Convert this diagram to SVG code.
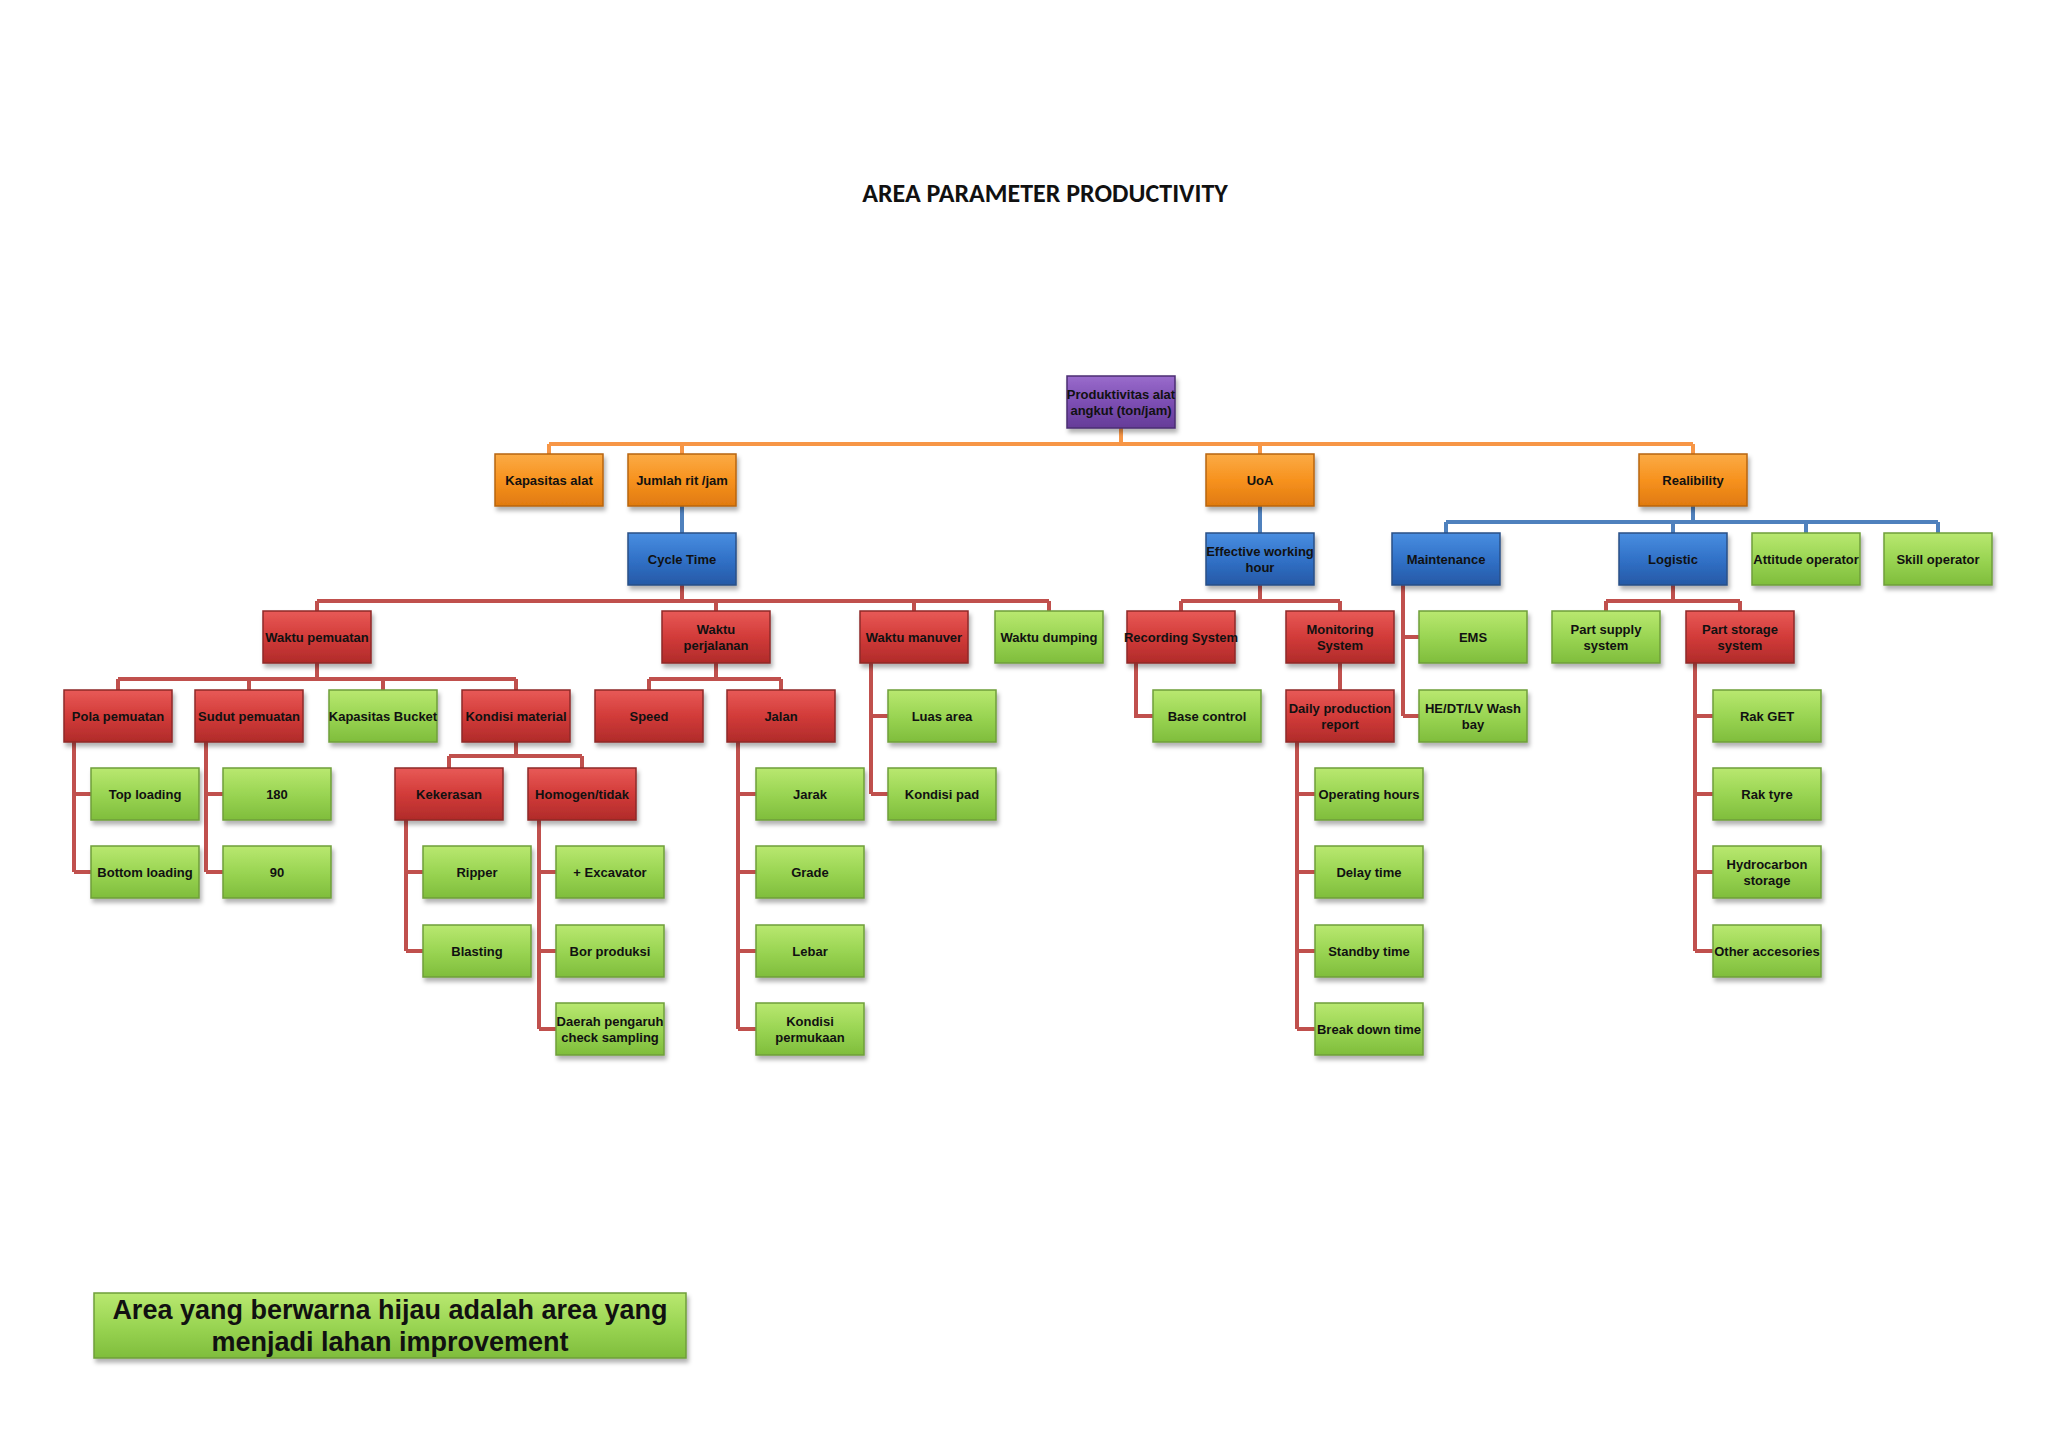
<svg xmlns="http://www.w3.org/2000/svg" width="2048" height="1448" viewBox="0 0 2048 1448">
<style>
.n text{font-family:"Liberation Sans Narrow","Liberation Sans",Arial,sans-serif;font-weight:bold;font-size:13px;fill:#111;text-anchor:middle}
.n rect{stroke-width:1.5;filter:url(#sh)}
.g rect{fill:url(#gG);stroke:#6f9e3a}
.r rect{fill:url(#gR);stroke:#8e2a28}
.o rect{fill:url(#gO);stroke:#b8650f}
.b rect{fill:url(#gB);stroke:#2a4f86}
.p rect{fill:url(#gP);stroke:#4b2c72}
#conn path{fill:none;stroke-width:4}
.co{stroke:#f79646}.cb{stroke:#4f81bd}.cr{stroke:#c0504d}
</style>
<defs>
<filter id="sh" x="-10%" y="-10%" width="125%" height="140%"><feDropShadow dx="2" dy="4" stdDeviation="2" flood-color="#000" flood-opacity="0.3"/></filter>
<linearGradient id="gG" x1="0" y1="0" x2="0" y2="1"><stop offset="0" stop-color="#b9e870"/><stop offset="0.5" stop-color="#9ad553"/><stop offset="1" stop-color="#7fbd3c"/></linearGradient>
<linearGradient id="gR" x1="0" y1="0" x2="0" y2="1"><stop offset="0" stop-color="#e85a57"/><stop offset="0.5" stop-color="#d23b39"/><stop offset="1" stop-color="#b02b2a"/></linearGradient>
<linearGradient id="gO" x1="0" y1="0" x2="0" y2="1"><stop offset="0" stop-color="#fbab45"/><stop offset="0.5" stop-color="#f7921e"/><stop offset="1" stop-color="#e07a10"/></linearGradient>
<linearGradient id="gB" x1="0" y1="0" x2="0" y2="1"><stop offset="0" stop-color="#4a8ee0"/><stop offset="0.5" stop-color="#3172c8"/><stop offset="1" stop-color="#2659a6"/></linearGradient>
<linearGradient id="gP" x1="0" y1="0" x2="0" y2="1"><stop offset="0" stop-color="#9a6ccc"/><stop offset="0.5" stop-color="#7d4fb3"/><stop offset="1" stop-color="#653c98"/></linearGradient>
</defs>
<rect width="2048" height="1448" fill="#fff"/>
<text x="1045" y="202" font-family="Calibri,'Liberation Sans',Arial,sans-serif" font-weight="bold" font-size="26" text-anchor="middle" fill="#111">AREA PARAMETER PRODUCTIVITY</text>

<g id="conn">
<path class="co" d="M1121 428V444M549 444H1693M549 444V454M682 444V454M1260 444V454M1693 444V454"/>
<path class="cb" d="M682 506V533M1260 506V533M1693 506V522M1446 522H1938M1446 522V533M1673 522V533M1806 522V533M1938 522V533"/>
<path class="cr" d="M682 585V601M317 601H1049M317 601V611M716 601V611M914 601V611M1049 601V611"/>
<path class="cr" d="M1260 585V601M1181 601H1340M1181 601V611M1340 601V611"/>
<path class="cr" d="M1673 585V601M1606 601H1740M1606 601V611M1740 601V611"/>
<path class="cr" d="M1403 585V716M1403 637H1419M1403 716H1419"/>
<path class="cr" d="M317 663V679M118 679H516M118 679V690M249 679V690M383 679V690M516 679V690"/>
<path class="cr" d="M716 663V679M649 679H781M649 679V690M781 679V690"/>
<path class="cr" d="M871 663V794M871 716H888M871 794H888"/>
<path class="cr" d="M1136 663V716H1153"/>
<path class="cr" d="M1340 663V690"/>
<path class="cr" d="M1695 663V951M1695 716H1713M1695 794H1713M1695 872H1713M1695 951H1713"/>
<path class="cr" d="M74 742V872M74 794H91M74 872H91"/>
<path class="cr" d="M206 742V872M206 794H223M206 872H223"/>
<path class="cr" d="M516 742V756M449 756H582M449 756V768M582 756V768"/>
<path class="cr" d="M738 742V1029M738 794H756M738 872H756M738 951H756M738 1029H756"/>
<path class="cr" d="M1297 742V1029M1297 794H1315M1297 872H1315M1297 951H1315M1297 1029H1315"/>
<path class="cr" d="M406 820V951M406 872H423M406 951H423"/>
<path class="cr" d="M539 820V1029M539 872H556M539 951H556M539 1029H556"/>
</g>

<g id="n-root" class="n p"><rect x="1067" y="376" width="108" height="52"/><text x="1121" y="398.5">Produktivitas alat</text><text x="1121" y="414.5">angkut (ton/jam)</text></g>

<g id="n-kapasitas-alat" class="n o"><rect x="495" y="454" width="108" height="52"/><text x="549" y="484.5">Kapasitas alat</text></g>
<g id="n-jumlah-rit" class="n o"><rect x="628" y="454" width="108" height="52"/><text x="682" y="484.5">Jumlah rit /jam</text></g>
<g id="n-uoa" class="n o"><rect x="1206" y="454" width="108" height="52"/><text x="1260" y="484.5">UoA</text></g>
<g id="n-realibility" class="n o"><rect x="1639" y="454" width="108" height="52"/><text x="1693" y="484.5">Realibility</text></g>

<g id="n-cycle-time" class="n b"><rect x="628" y="533" width="108" height="52"/><text x="682" y="563.5">Cycle Time</text></g>
<g id="n-ewh" class="n b"><rect x="1206" y="533" width="108" height="52"/><text x="1260" y="555.5">Effective working</text><text x="1260" y="571.5">hour</text></g>
<g id="n-maintenance" class="n b"><rect x="1392" y="533" width="108" height="52"/><text x="1446" y="563.5">Maintenance</text></g>
<g id="n-logistic" class="n b"><rect x="1619" y="533" width="108" height="52"/><text x="1673" y="563.5">Logistic</text></g>
<g id="n-attitude" class="n g"><rect x="1752" y="533" width="108" height="52"/><text x="1806" y="563.5">Attitude operator</text></g>
<g id="n-skill" class="n g"><rect x="1884" y="533" width="108" height="52"/><text x="1938" y="563.5">Skill operator</text></g>

<g id="n-waktu-pemuatan" class="n r"><rect x="263" y="611" width="108" height="52"/><text x="317" y="641.5">Waktu pemuatan</text></g>
<g id="n-waktu-perjalanan" class="n r"><rect x="662" y="611" width="108" height="52"/><text x="716" y="633.5">Waktu</text><text x="716" y="649.5">perjalanan</text></g>
<g id="n-waktu-manuver" class="n r"><rect x="860" y="611" width="108" height="52"/><text x="914" y="641.5">Waktu manuver</text></g>
<g id="n-waktu-dumping" class="n g"><rect x="995" y="611" width="108" height="52"/><text x="1049" y="641.5">Waktu dumping</text></g>
<g id="n-recording" class="n r"><rect x="1127" y="611" width="108" height="52"/><text x="1181" y="641.5">Recording System</text></g>
<g id="n-monitoring" class="n r"><rect x="1286" y="611" width="108" height="52"/><text x="1340" y="633.5">Monitoring</text><text x="1340" y="649.5">System</text></g>
<g id="n-ems" class="n g"><rect x="1419" y="611" width="108" height="52"/><text x="1473" y="641.5">EMS</text></g>
<g id="n-part-supply" class="n g"><rect x="1552" y="611" width="108" height="52"/><text x="1606" y="633.5">Part supply</text><text x="1606" y="649.5">system</text></g>
<g id="n-part-storage" class="n r"><rect x="1686" y="611" width="108" height="52"/><text x="1740" y="633.5">Part storage</text><text x="1740" y="649.5">system</text></g>

<g id="n-pola" class="n r"><rect x="64" y="690" width="108" height="52"/><text x="118" y="720.5">Pola pemuatan</text></g>
<g id="n-sudut" class="n r"><rect x="195" y="690" width="108" height="52"/><text x="249" y="720.5">Sudut pemuatan</text></g>
<g id="n-kap-bucket" class="n g"><rect x="329" y="690" width="108" height="52"/><text x="383" y="720.5">Kapasitas Bucket</text></g>
<g id="n-kondisi-material" class="n r"><rect x="462" y="690" width="108" height="52"/><text x="516" y="720.5">Kondisi material</text></g>
<g id="n-speed" class="n r"><rect x="595" y="690" width="108" height="52"/><text x="649" y="720.5">Speed</text></g>
<g id="n-jalan" class="n r"><rect x="727" y="690" width="108" height="52"/><text x="781" y="720.5">Jalan</text></g>
<g id="n-luas-area" class="n g"><rect x="888" y="690" width="108" height="52"/><text x="942" y="720.5">Luas area</text></g>
<g id="n-base-control" class="n g"><rect x="1153" y="690" width="108" height="52"/><text x="1207" y="720.5">Base control</text></g>
<g id="n-daily" class="n r"><rect x="1286" y="690" width="108" height="52"/><text x="1340" y="712.5">Daily production</text><text x="1340" y="728.5">report</text></g>
<g id="n-wash" class="n g"><rect x="1419" y="690" width="108" height="52"/><text x="1473" y="712.5">HE/DT/LV Wash</text><text x="1473" y="728.5">bay</text></g>
<g id="n-rak-get" class="n g"><rect x="1713" y="690" width="108" height="52"/><text x="1767" y="720.5">Rak GET</text></g>

<g id="n-top-loading" class="n g"><rect x="91" y="768" width="108" height="52"/><text x="145" y="798.5">Top loading</text></g>
<g id="n-180" class="n g"><rect x="223" y="768" width="108" height="52"/><text x="277" y="798.5">180</text></g>
<g id="n-kekerasan" class="n r"><rect x="395" y="768" width="108" height="52"/><text x="449" y="798.5">Kekerasan</text></g>
<g id="n-homogen" class="n r"><rect x="528" y="768" width="108" height="52"/><text x="582" y="798.5">Homogen/tidak</text></g>
<g id="n-jarak" class="n g"><rect x="756" y="768" width="108" height="52"/><text x="810" y="798.5">Jarak</text></g>
<g id="n-kondisi-pad" class="n g"><rect x="888" y="768" width="108" height="52"/><text x="942" y="798.5">Kondisi pad</text></g>
<g id="n-operating" class="n g"><rect x="1315" y="768" width="108" height="52"/><text x="1369" y="798.5">Operating hours</text></g>
<g id="n-rak-tyre" class="n g"><rect x="1713" y="768" width="108" height="52"/><text x="1767" y="798.5">Rak tyre</text></g>

<g id="n-bottom-loading" class="n g"><rect x="91" y="846" width="108" height="52"/><text x="145" y="876.5">Bottom loading</text></g>
<g id="n-90" class="n g"><rect x="223" y="846" width="108" height="52"/><text x="277" y="876.5">90</text></g>
<g id="n-ripper" class="n g"><rect x="423" y="846" width="108" height="52"/><text x="477" y="876.5">Ripper</text></g>
<g id="n-excavator" class="n g"><rect x="556" y="846" width="108" height="52"/><text x="610" y="876.5">+ Excavator</text></g>
<g id="n-grade" class="n g"><rect x="756" y="846" width="108" height="52"/><text x="810" y="876.5">Grade</text></g>
<g id="n-delay" class="n g"><rect x="1315" y="846" width="108" height="52"/><text x="1369" y="876.5">Delay time</text></g>
<g id="n-hydrocarbon" class="n g"><rect x="1713" y="846" width="108" height="52"/><text x="1767" y="868.5">Hydrocarbon</text><text x="1767" y="884.5">storage</text></g>

<g id="n-blasting" class="n g"><rect x="423" y="925" width="108" height="52"/><text x="477" y="955.5">Blasting</text></g>
<g id="n-bor" class="n g"><rect x="556" y="925" width="108" height="52"/><text x="610" y="955.5">Bor produksi</text></g>
<g id="n-lebar" class="n g"><rect x="756" y="925" width="108" height="52"/><text x="810" y="955.5">Lebar</text></g>
<g id="n-standby" class="n g"><rect x="1315" y="925" width="108" height="52"/><text x="1369" y="955.5">Standby time</text></g>
<g id="n-other" class="n g"><rect x="1713" y="925" width="108" height="52"/><text x="1767" y="955.5">Other accesories</text></g>

<g id="n-daerah" class="n g"><rect x="556" y="1003" width="108" height="52"/><text x="610" y="1025.5">Daerah pengaruh</text><text x="610" y="1041.5">check sampling</text></g>
<g id="n-kondisi-permukaan" class="n g"><rect x="756" y="1003" width="108" height="52"/><text x="810" y="1025.5">Kondisi</text><text x="810" y="1041.5">permukaan</text></g>
<g id="n-breakdown" class="n g"><rect x="1315" y="1003" width="108" height="52"/><text x="1369" y="1033.5">Break down time</text></g>

<g id="legend" class="n g"><rect x="94" y="1293" width="592" height="65"/><text x="390" y="1319" style="font-size:27px">Area yang berwarna hijau adalah area yang</text><text x="390" y="1351" style="font-size:27px">menjadi lahan improvement</text></g>
</svg>
